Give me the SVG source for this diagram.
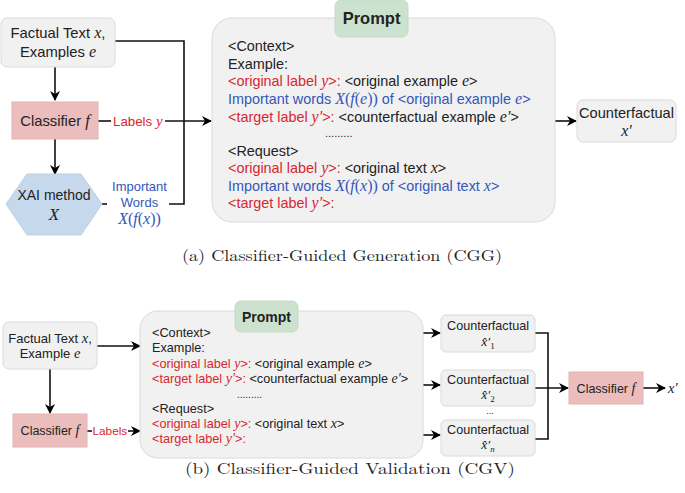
<svg xmlns="http://www.w3.org/2000/svg" width="685" height="493" viewBox="0 0 685 493">
<defs>
<marker id="ah" viewBox="0 0 10 10" refX="9" refY="5" markerWidth="10" markerHeight="10" markerUnits="userSpaceOnUse" orient="auto">
<path d="M0,0 L10,5 L0,10 L3,5 z" fill="#000"/>
</marker>
<style>
text{font-family:"Liberation Sans",Arial,sans-serif;fill:#222}
.m{font-family:"Liberation Serif","Times New Roman",serif;font-style:italic}
.u{font-family:"Liberation Serif","Times New Roman",serif;font-style:normal}
.r{fill:#d8262e}
.b{fill:#3356b8}
.gbox{fill:#f1f1f1;stroke:#dadada;stroke-width:1}
.cls{fill:#ebbdbd;stroke:#e3b3b3;stroke-width:1}
.tab{fill:#cce2cf;stroke:#c2dbc5;stroke-width:1}
.ln{fill:none;stroke:#111;stroke-width:1.6}
.cap{font-family:"Latin Modern Roman","Liberation Serif","Times New Roman",serif;font-size:15.5px;fill:#222}
.c{text-anchor:middle}
.pa{font-size:14.4px}
.pam{font-size:16px}
.pb{font-size:12.7px}
.pbm{font-size:14px}
</style>
</defs>

<!-- ===== Part (a) ===== -->
<g id="connectors-a">
<line class="ln" x1="55" y1="67" x2="55" y2="100" marker-end="url(#ah)"/>
<line class="ln" x1="55" y1="139" x2="55" y2="174" marker-end="url(#ah)"/>
<line class="ln" x1="98" y1="121" x2="111" y2="121"/>
<line class="ln" x1="165" y1="121" x2="211" y2="121" marker-end="url(#ah)"/>
<polyline class="ln" points="115,41 184,41 184,204 169,204"/>
<line class="ln" x1="102" y1="204" x2="107" y2="204"/>
<line class="ln" x1="555" y1="121" x2="576" y2="121" marker-end="url(#ah)"/>
<text x="113" y="125.5" font-size="13.3" class="r">Labels <tspan class="m" font-size="15">y</tspan></text>
<text x="139.5" y="191" font-size="13" class="b c">Important</text>
<text x="139.5" y="207" font-size="13" class="b c">Words</text>
<text x="139.5" y="224" font-size="16" class="b c"><tspan class="m">X</tspan><tspan class="u">(</tspan><tspan class="m">f</tspan><tspan class="u">(</tspan><tspan class="m">x</tspan><tspan class="u">))</tspan></text>
</g>

<g id="factual-a">
<rect class="gbox" x="1" y="18" width="114" height="49" rx="6"/>
<text x="58" y="38" font-size="14.8" class="c">Factual Text <tspan class="m" font-size="16">x</tspan>,</text>
<text x="58" y="57" font-size="14.8" class="c">Examples <tspan class="m" font-size="16">e</tspan></text>
</g>

<g id="classifier-a">
<rect class="cls" x="12" y="102" width="86" height="37"/>
<text x="55" y="125.5" font-size="14.8" class="c">Classifier <tspan class="m" font-size="16.5">f</tspan></text>
</g>

<g id="xai">
<polygon points="6,204 27,174 81,174 102,204 81,235 27,235" fill="#c6d9ec" stroke="#bcd1e6"/>
<text x="54" y="200" font-size="14" class="c">XAI method</text>
<text x="54" y="220" font-size="17" class="c m">X</text>
</g>

<g id="prompt-a">
<rect class="gbox" x="212" y="18" width="343" height="204" rx="20"/>
<rect class="tab" x="335" y="0" width="73" height="37" rx="6"/>
<text x="371.5" y="24" font-size="16.5" font-weight="bold" class="c">Prompt</text>
<text x="228" y="51" class="pa">&lt;Context&gt;</text>
<text x="228" y="68.5" class="pa">Example:</text>
<text x="228" y="86" class="pa"><tspan class="r">&lt;original label <tspan class="m pam">y</tspan>&gt;:</tspan> &lt;original example <tspan class="m pam">e</tspan>&gt;</text>
<text x="228" y="104" class="pa b">Important words <tspan class="m pam">X</tspan><tspan class="u pam">(</tspan><tspan class="m pam">f</tspan><tspan class="u pam">(</tspan><tspan class="m pam">e</tspan><tspan class="u pam">))</tspan> of &lt;original example <tspan class="m pam">e</tspan>&gt;</text>
<text x="228" y="121.5" class="pa"><tspan class="r">&lt;target label <tspan class="m pam">y′</tspan>&gt;:</tspan> &lt;counterfactual example <tspan class="m pam">e′</tspan>&gt;</text>
<text x="325" y="137" font-size="11">.........</text>
<text x="228" y="156" class="pa">&lt;Request&gt;</text>
<text x="228" y="173" class="pa"><tspan class="r">&lt;original label <tspan class="m pam">y</tspan>&gt;:</tspan> &lt;original text <tspan class="m pam">x</tspan>&gt;</text>
<text x="228" y="190.5" class="pa b">Important words <tspan class="m pam">X</tspan><tspan class="u pam">(</tspan><tspan class="m pam">f</tspan><tspan class="u pam">(</tspan><tspan class="m pam">x</tspan><tspan class="u pam">))</tspan> of &lt;original text <tspan class="m pam">x</tspan>&gt;</text>
<text x="228" y="207.5" class="pa r">&lt;target label <tspan class="m pam">y′</tspan>&gt;:</text>
</g>

<g id="counterfactual-a">
<rect class="gbox" x="577" y="100" width="99" height="42" rx="6"/>
<text x="626.5" y="118" font-size="14.6" class="c">Counterfactual</text>
<text x="626.5" y="136" font-size="16" class="c m">x′</text>
</g>

<text id="caption-a" x="342" y="261" class="cap c" textLength="320" lengthAdjust="spacingAndGlyphs">(a) Classifier-Guided Generation (CGG)</text>

<!-- ===== Part (b) ===== -->
<g id="connectors-b">
<line class="ln" x1="97" y1="346" x2="140" y2="346" marker-end="url(#ah)"/>
<line class="ln" x1="50" y1="369" x2="50" y2="413" marker-end="url(#ah)"/>
<line class="ln" x1="87" y1="431" x2="92" y2="431"/>
<line class="ln" x1="128" y1="431" x2="140" y2="431" marker-end="url(#ah)"/>
<line class="ln" x1="423" y1="333" x2="440" y2="333" marker-end="url(#ah)"/>
<line class="ln" x1="423" y1="385" x2="440" y2="385" marker-end="url(#ah)"/>
<line class="ln" x1="423" y1="435" x2="440" y2="435" marker-end="url(#ah)"/>
<polyline class="ln" points="535,333 548,333 548,439 535,439"/>
<line class="ln" x1="535" y1="388" x2="568" y2="388" marker-end="url(#ah)"/>
<line class="ln" x1="643" y1="388" x2="665" y2="388" marker-end="url(#ah)"/>
<text x="92.5" y="435" font-size="11.8" class="r">Labels</text>
<text x="668" y="392.5" font-size="14.5" class="m">x′</text>
</g>

<g id="factual-b">
<rect class="gbox" x="3" y="322" width="94" height="47" rx="6"/>
<text x="50" y="343" font-size="13" class="c">Factual Text <tspan class="m" font-size="14.5">x</tspan>,</text>
<text x="50" y="358" font-size="13" class="c">Example <tspan class="m" font-size="14.5">e</tspan></text>
</g>

<g id="classifier-b">
<rect class="cls" x="13" y="414" width="74" height="33"/>
<text x="50" y="435" font-size="12.5" class="c">Classifier <tspan class="m" font-size="14">f</tspan></text>
</g>

<g id="prompt-b">
<rect class="gbox" x="140" y="311" width="283" height="147" rx="18"/>
<rect class="tab" x="235" y="301" width="63" height="31" rx="6"/>
<text x="266.5" y="322" font-size="14" font-weight="bold" class="c">Prompt</text>
<text x="152" y="337" class="pb">&lt;Context&gt;</text>
<text x="152" y="352" class="pb">Example:</text>
<text x="152" y="368" class="pb"><tspan class="r">&lt;original label <tspan class="m pbm">y</tspan>&gt;:</tspan> &lt;original example <tspan class="m pbm">e</tspan>&gt;</text>
<text x="152" y="383" class="pb"><tspan class="r">&lt;target label <tspan class="m pbm">y′</tspan>&gt;:</tspan> &lt;counterfactual example <tspan class="m pbm">e′</tspan>&gt;</text>
<text x="237" y="398" font-size="10">.........</text>
<text x="152" y="413" class="pb">&lt;Request&gt;</text>
<text x="152" y="428" class="pb"><tspan class="r">&lt;original label <tspan class="m pbm">y</tspan>&gt;:</tspan> &lt;original text <tspan class="m pbm">x</tspan>&gt;</text>
<text x="152" y="443" class="pb r">&lt;target label <tspan class="m pbm">y′</tspan>&gt;:</text>
</g>

<g id="cf1">
<rect class="gbox" x="441" y="315" width="94" height="37" rx="5"/>
<text x="488" y="330" font-size="12.6" class="c">Counterfactual</text>
<text x="488" y="346" font-size="13.5" class="c m">x̂′<tspan font-size="9" dy="3" class="u">1</tspan></text>
</g>
<g id="cf2">
<rect class="gbox" x="441" y="370" width="94" height="36" rx="5"/>
<text x="488" y="384" font-size="12.6" class="c">Counterfactual</text>
<text x="488" y="399" font-size="13.5" class="c m">x̂′<tspan font-size="9" dy="3" class="u">2</tspan></text>
</g>
<text x="490" y="414" font-size="9" class="c">...</text>
<g id="cfn">
<rect class="gbox" x="441" y="420" width="94" height="36" rx="5"/>
<text x="488" y="434" font-size="12.6" class="c">Counterfactual</text>
<text x="488" y="449" font-size="13.5" class="c m">x̂′<tspan font-size="9" dy="3">n</tspan></text>
</g>

<g id="classifier-c">
<rect class="cls" x="569" y="372" width="74" height="32"/>
<text x="606" y="392.5" font-size="12.5" class="c">Classifier <tspan class="m" font-size="14">f</tspan></text>
</g>

<text id="caption-b" x="350" y="474" class="cap c" textLength="330" lengthAdjust="spacingAndGlyphs">(b) Classifier-Guided Validation (CGV)</text>
</svg>
